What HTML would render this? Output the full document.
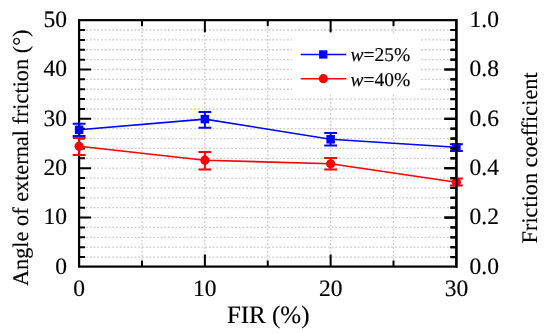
<!DOCTYPE html>
<html><head><meta charset="utf-8"><style>
html,body{margin:0;padding:0;background:#fff;}
body{width:550px;height:333px;overflow:hidden;}
svg{display:block;}
text{stroke:#000;stroke-width:0.15px;text-rendering:geometricPrecision;}
</style></head><body>
<svg width="550" height="333" viewBox="0 0 550 333">
<line x1="79.1" y1="257.03" x2="456.4" y2="257.03" stroke="#cdcdcd" stroke-width="1.3" stroke-dasharray="1.9 1.82" stroke-dashoffset="0.4"/>
<line x1="79.1" y1="247.16" x2="456.4" y2="247.16" stroke="#cdcdcd" stroke-width="1.3" stroke-dasharray="1.9 1.82" stroke-dashoffset="0.4"/>
<line x1="79.1" y1="237.29" x2="456.4" y2="237.29" stroke="#cdcdcd" stroke-width="1.3" stroke-dasharray="1.9 1.82" stroke-dashoffset="0.4"/>
<line x1="79.1" y1="227.42" x2="456.4" y2="227.42" stroke="#cdcdcd" stroke-width="1.3" stroke-dasharray="1.9 1.82" stroke-dashoffset="0.4"/>
<line x1="79.1" y1="217.55" x2="456.4" y2="217.55" stroke="#cdcdcd" stroke-width="1.3" stroke-dasharray="1.9 1.82" stroke-dashoffset="0.4"/>
<line x1="79.1" y1="207.68" x2="456.4" y2="207.68" stroke="#cdcdcd" stroke-width="1.3" stroke-dasharray="1.9 1.82" stroke-dashoffset="0.4"/>
<line x1="79.1" y1="197.81" x2="456.4" y2="197.81" stroke="#cdcdcd" stroke-width="1.3" stroke-dasharray="1.9 1.82" stroke-dashoffset="0.4"/>
<line x1="79.1" y1="187.94" x2="456.4" y2="187.94" stroke="#cdcdcd" stroke-width="1.3" stroke-dasharray="1.9 1.82" stroke-dashoffset="0.4"/>
<line x1="79.1" y1="178.07" x2="456.4" y2="178.07" stroke="#cdcdcd" stroke-width="1.3" stroke-dasharray="1.9 1.82" stroke-dashoffset="0.4"/>
<line x1="79.1" y1="168.20" x2="456.4" y2="168.20" stroke="#cdcdcd" stroke-width="1.3" stroke-dasharray="1.9 1.82" stroke-dashoffset="0.4"/>
<line x1="79.1" y1="158.33" x2="456.4" y2="158.33" stroke="#cdcdcd" stroke-width="1.3" stroke-dasharray="1.9 1.82" stroke-dashoffset="0.4"/>
<line x1="79.1" y1="148.46" x2="456.4" y2="148.46" stroke="#cdcdcd" stroke-width="1.3" stroke-dasharray="1.9 1.82" stroke-dashoffset="0.4"/>
<line x1="79.1" y1="138.59" x2="456.4" y2="138.59" stroke="#cdcdcd" stroke-width="1.3" stroke-dasharray="1.9 1.82" stroke-dashoffset="0.4"/>
<line x1="79.1" y1="128.72" x2="456.4" y2="128.72" stroke="#cdcdcd" stroke-width="1.3" stroke-dasharray="1.9 1.82" stroke-dashoffset="0.4"/>
<line x1="79.1" y1="118.85" x2="456.4" y2="118.85" stroke="#cdcdcd" stroke-width="1.3" stroke-dasharray="1.9 1.82" stroke-dashoffset="0.4"/>
<line x1="79.1" y1="108.98" x2="456.4" y2="108.98" stroke="#cdcdcd" stroke-width="1.3" stroke-dasharray="1.9 1.82" stroke-dashoffset="0.4"/>
<line x1="79.1" y1="99.11" x2="456.4" y2="99.11" stroke="#cdcdcd" stroke-width="1.3" stroke-dasharray="1.9 1.82" stroke-dashoffset="0.4"/>
<line x1="79.1" y1="89.24" x2="456.4" y2="89.24" stroke="#cdcdcd" stroke-width="1.3" stroke-dasharray="1.9 1.82" stroke-dashoffset="0.4"/>
<line x1="79.1" y1="79.37" x2="456.4" y2="79.37" stroke="#cdcdcd" stroke-width="1.3" stroke-dasharray="1.9 1.82" stroke-dashoffset="0.4"/>
<line x1="79.1" y1="69.50" x2="456.4" y2="69.50" stroke="#cdcdcd" stroke-width="1.3" stroke-dasharray="1.9 1.82" stroke-dashoffset="0.4"/>
<line x1="79.1" y1="59.63" x2="456.4" y2="59.63" stroke="#cdcdcd" stroke-width="1.3" stroke-dasharray="1.9 1.82" stroke-dashoffset="0.4"/>
<line x1="79.1" y1="49.76" x2="456.4" y2="49.76" stroke="#cdcdcd" stroke-width="1.3" stroke-dasharray="1.9 1.82" stroke-dashoffset="0.4"/>
<line x1="79.1" y1="39.89" x2="456.4" y2="39.89" stroke="#cdcdcd" stroke-width="1.3" stroke-dasharray="1.9 1.82" stroke-dashoffset="0.4"/>
<line x1="79.1" y1="30.02" x2="456.4" y2="30.02" stroke="#cdcdcd" stroke-width="1.3" stroke-dasharray="1.9 1.82" stroke-dashoffset="0.4"/>
<line x1="141.98" y1="20.15" x2="141.98" y2="266.6" stroke="#cdcdcd" stroke-width="1.3" stroke-dasharray="1.9 1.82"/>
<line x1="204.87" y1="20.15" x2="204.87" y2="266.6" stroke="#cdcdcd" stroke-width="1.3" stroke-dasharray="1.9 1.82"/>
<line x1="267.75" y1="20.15" x2="267.75" y2="266.6" stroke="#cdcdcd" stroke-width="1.3" stroke-dasharray="1.9 1.82"/>
<line x1="330.63" y1="20.15" x2="330.63" y2="266.6" stroke="#cdcdcd" stroke-width="1.3" stroke-dasharray="1.9 1.82"/>
<line x1="393.52" y1="20.15" x2="393.52" y2="266.6" stroke="#cdcdcd" stroke-width="1.3" stroke-dasharray="1.9 1.82"/>
<rect x="292" y="35" width="128" height="59" fill="#fff"/>
<path d="M79.10 257.03h6M456.40 257.03h-6M79.10 247.16h6M456.40 247.16h-6M79.10 237.29h6M456.40 237.29h-6M79.10 227.42h6M456.40 227.42h-6M79.10 217.55h12M456.40 217.55h-12M79.10 207.68h6M456.40 207.68h-6M79.10 197.81h6M456.40 197.81h-6M79.10 187.94h6M456.40 187.94h-6M79.10 178.07h6M456.40 178.07h-6M79.10 168.20h12M456.40 168.20h-12M79.10 158.33h6M456.40 158.33h-6M79.10 148.46h6M456.40 148.46h-6M79.10 138.59h6M456.40 138.59h-6M79.10 128.72h6M456.40 128.72h-6M79.10 118.85h12M456.40 118.85h-12M79.10 108.98h6M456.40 108.98h-6M79.10 99.11h6M456.40 99.11h-6M79.10 89.24h6M456.40 89.24h-6M79.10 79.37h6M456.40 79.37h-6M79.10 69.50h12M456.40 69.50h-12M79.10 59.63h6M456.40 59.63h-6M79.10 49.76h6M456.40 49.76h-6M79.10 39.89h6M456.40 39.89h-6M79.10 30.02h6M456.40 30.02h-6M141.98 20.15v6M141.98 266.60v-6M204.87 20.15v12M204.87 266.60v-12M267.75 20.15v6M267.75 266.60v-6M330.63 20.15v12M330.63 266.60v-12M393.52 20.15v6M393.52 266.60v-6" stroke="#000" stroke-width="2" fill="none"/>
<rect x="79.1" y="20.15" width="377.30" height="246.45" stroke="#000" stroke-width="2.2" fill="none"/>
<path d="M79.10 129.80L204.87 119.10L330.63 139.30L456.40 147.30" stroke="#0000ff" stroke-width="1.6" fill="none"/>
<path d="M79.10 123.80V135.90M72.70 123.80h12.8M72.70 135.90h12.8M204.87 111.90V127.70M198.47 111.90h12.8M198.47 127.70h12.8M330.63 133.00V145.50M324.23 133.00h12.8M324.23 145.50h12.8M456.40 144.30V151.10M450.00 144.30h12.8M450.00 151.10h12.8" stroke="#0000ff" stroke-width="2" fill="none"/>
<rect x="74.85" y="125.55" width="8.5" height="8.5" fill="#0000ff"/>
<rect x="200.62" y="114.85" width="8.5" height="8.5" fill="#0000ff"/>
<rect x="326.38" y="135.05" width="8.5" height="8.5" fill="#0000ff"/>
<rect x="452.15" y="143.05" width="8.5" height="8.5" fill="#0000ff"/>
<path d="M79.10 146.30L204.87 160.20L330.63 163.80L456.40 182.20" stroke="#ff0000" stroke-width="1.6" fill="none"/>
<path d="M79.10 138.10V155.00M72.70 138.10h12.8M72.70 155.00h12.8M204.87 152.00V169.40M198.47 152.00h12.8M198.47 169.40h12.8M330.63 157.90V169.60M324.23 157.90h12.8M324.23 169.60h12.8M456.40 178.60V185.60M450.00 178.60h12.8M450.00 185.60h12.8" stroke="#ff0000" stroke-width="2" fill="none"/>
<circle cx="79.10" cy="146.30" r="4.6" fill="#ff0000"/>
<circle cx="204.87" cy="160.20" r="4.6" fill="#ff0000"/>
<circle cx="330.63" cy="163.80" r="4.6" fill="#ff0000"/>
<circle cx="456.40" cy="182.20" r="4.6" fill="#ff0000"/>
<path d="M456.40 19.05V267.70M456.40 257.03h-6M456.40 247.16h-6M456.40 237.29h-6M456.40 227.42h-6M456.40 217.55h-12M456.40 207.68h-6M456.40 197.81h-6M456.40 187.94h-6M456.40 178.07h-6M456.40 168.20h-12M456.40 158.33h-6M456.40 148.46h-6M456.40 138.59h-6M456.40 128.72h-6M456.40 118.85h-12M456.40 108.98h-6M456.40 99.11h-6M456.40 89.24h-6M456.40 79.37h-6M456.40 69.50h-12M456.40 59.63h-6M456.40 49.76h-6M456.40 39.89h-6M456.40 30.02h-6" stroke="#000" stroke-width="2.2" fill="none"/>
<path d="M300.7 54.5H346.3" stroke="#0000ff" stroke-width="1.6"/>
<rect x="319.1" y="50.3" width="8.3" height="8.3" fill="#0000ff"/>
<path d="M300.7 78.7H346.3" stroke="#ff0000" stroke-width="1.6"/>
<circle cx="323.4" cy="78.7" r="4.6" fill="#ff0000"/>
<text x="350.6" y="61.4" font-family='"Liberation Serif", serif' font-size="19.5"><tspan font-style="italic">w</tspan>=25%</text>
<text x="350.6" y="85.8" font-family='"Liberation Serif", serif' font-size="19.5"><tspan font-style="italic">w</tspan>=40%</text>
<text x="67" y="273.70" text-anchor="end" font-family='"Liberation Serif", serif' font-size="23.5">0</text>
<text x="67" y="224.35" text-anchor="end" font-family='"Liberation Serif", serif' font-size="23.5">10</text>
<text x="67" y="175.00" text-anchor="end" font-family='"Liberation Serif", serif' font-size="23.5">20</text>
<text x="67" y="125.65" text-anchor="end" font-family='"Liberation Serif", serif' font-size="23.5">30</text>
<text x="67" y="76.30" text-anchor="end" font-family='"Liberation Serif", serif' font-size="23.5">40</text>
<text x="67" y="26.95" text-anchor="end" font-family='"Liberation Serif", serif' font-size="23.5">50</text>
<text x="469.5" y="273.70" font-family='"Liberation Serif", serif' font-size="23.5">0.0</text>
<text x="469.5" y="224.35" font-family='"Liberation Serif", serif' font-size="23.5">0.2</text>
<text x="469.5" y="175.00" font-family='"Liberation Serif", serif' font-size="23.5">0.4</text>
<text x="469.5" y="125.65" font-family='"Liberation Serif", serif' font-size="23.5">0.6</text>
<text x="469.5" y="76.30" font-family='"Liberation Serif", serif' font-size="23.5">0.8</text>
<text x="469.5" y="26.95" font-family='"Liberation Serif", serif' font-size="23.5">1.0</text>
<text x="79.10" y="296.2" text-anchor="middle" font-family='"Liberation Serif", serif' font-size="23.5">0</text>
<text x="204.87" y="296.2" text-anchor="middle" font-family='"Liberation Serif", serif' font-size="23.5">10</text>
<text x="330.63" y="296.2" text-anchor="middle" font-family='"Liberation Serif", serif' font-size="23.5">20</text>
<text x="456.40" y="296.2" text-anchor="middle" font-family='"Liberation Serif", serif' font-size="23.5">30</text>
<text x="268.2" y="322.9" text-anchor="middle" font-family='"Liberation Serif", serif' font-size="25">FIR (%)</text>
<text transform="translate(28.1 157.8) rotate(-90)" text-anchor="middle" font-family='"Liberation Serif", serif' font-size="22.3">Angle of external friction (°)</text>
<text transform="translate(536.6 157.9) rotate(-90)" text-anchor="middle" font-family='"Liberation Serif", serif' font-size="22.3">Friction coefficient</text>
</svg>
</body></html>
